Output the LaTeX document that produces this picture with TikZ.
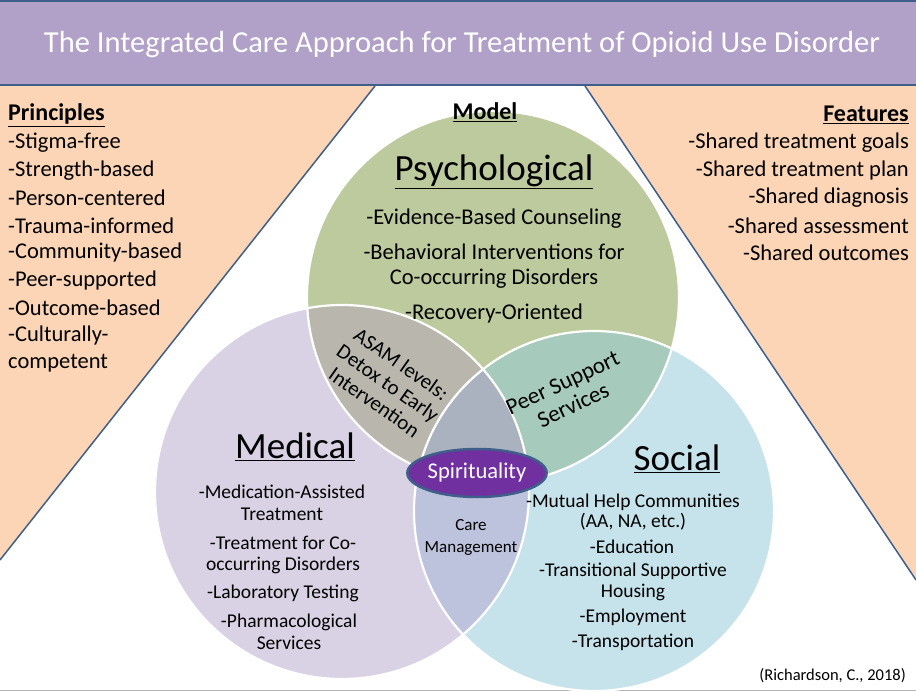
\documentclass[tikz,border=0pt]{standalone}
\usepackage{fontspec}
\usetikzlibrary{shapes.geometric}
\setmainfont{Carlito}
\begin{document}
\begin{tikzpicture}[x=1pt,y=-1pt,
  txt/.style={inner sep=0pt,font=\fontsize{22.5}{27}\selectfont,align=center},
  sm/.style={inner sep=0pt,font=\fontsize{19.5}{21.5}\selectfont,align=center},
  head/.style={inner sep=0pt,font=\bfseries\fontsize{24}{28}\selectfont},
  big/.style={inner sep=0pt,font=\fontsize{37}{42}\selectfont},
  lens/.style={inner sep=0pt,font=\fontsize{21}{23.5}\selectfont,align=center},
  edge/.style={draw=white,line width=2.2pt}]
\definecolor{peach}{HTML}{FBD5B5}
\definecolor{hdr}{HTML}{B1A0C7}
\definecolor{navy}{HTML}{3E5F8A}
\definecolor{cps}{HTML}{BDCA9D}
\definecolor{cme}{HTML}{D9D1E4}
\definecolor{cso}{HTML}{C6E3EC}
\definecolor{cpm}{HTML}{B8B6AD}
\definecolor{cpso}{HTML}{A6CABB}
\definecolor{cmso}{HTML}{BDC2DD}
\definecolor{call}{HTML}{AAB2BF}
\definecolor{spc}{HTML}{7030A0}
\useasboundingbox (0,0) rectangle (916,692);
\fill[white] (0,0) rectangle (916,692);
% peach side regions
\fill[peach] (0,86) -- (375,86) -- (0,560) -- cycle;
\fill[peach] (585,86) -- (916,86) -- (916,580) -- cycle;
\draw[navy,line width=1.5pt] (375,86) -- (0,560);
\draw[navy,line width=1.5pt] (585,86) -- (916,580);
% header
\fill[hdr] (0,0) rectangle (916,85);
\draw[navy,line width=2pt] (0,1) -- (916,1);
\draw[navy,line width=2.5pt] (0,85) -- (916,85);
\node[inner sep=0pt,text=white,font=\fontsize{30.5}{34}\selectfont] (title) at (462,45) {The Integrated Care Approach for Treatment of Opioid Use Disorder};
\draw[gray!60,line width=1pt] (0,690) -- (916,690);
% circles
\coordinate (P) at (493,297);
\coordinate (M) at (342,492);
\coordinate (S) at (594,511);
\fill[cps] (P) circle (186);
\fill[cme] (M) circle (187);
\fill[cso] (S) circle (180);
\begin{scope}\clip (P) circle (186); \fill[cpm] (M) circle (187); \fill[cpso] (S) circle (180);\end{scope}
\begin{scope}\clip (M) circle (187); \fill[cmso] (S) circle (180);\end{scope}
\begin{scope}\clip (P) circle (186); \clip (M) circle (187); \fill[call] (S) circle (180);\end{scope}
\draw[edge] (P) circle (186);
\draw[edge] (M) circle (187);
\draw[edge] (S) circle (180);
% side texts
\node[head,anchor=west] (prin) at (8,115) {\underline{Principles}};
\foreach \t [count=\i] in {-Stigma-free,-Strength-based,-Person-centered,-Trauma-informed,-Community-based,-Peer-supported,-Outcome-based,-Culturally-,competent}
  \node[txt,anchor=west] (p\i) at (8,115+27.6*\i) {\t};
\node[head,anchor=east] (feat) at (909,115) {\underline{Features}};
\foreach \t [count=\i] in {-Shared treatment goals,-Shared treatment plan,-Shared diagnosis,-Shared assessment,-Shared outcomes}
  \node[txt,anchor=east] (f\i) at (909,115+27.6*\i) {\t};
\node[head] (model) at (485,112) {\underline{Model}};
% psychological
\node[big] (psy) at (494,172) {\underline{Psychological}};
\node[txt] (ps1) at (494,219) {-Evidence-Based Counseling};
\node[txt,font=\fontsize{22.5}{25}\selectfont] (ps2) at (494,266) {-Behavioral Interventions for\\Co-occurring Disorders};
\node[txt] (ps3) at (494,314) {-Recovery-Oriented};
% medical
\node[big] (med) at (295,447) {\underline{Medical}};
\node[sm] (m1) at (282,503) {-Medication-Assisted\\Treatment};
\node[sm] (m2) at (283,555) {-Treatment for Co-\\occurring Disorders};
\node[sm] (m3) at (283,593) {-Laboratory Testing};
\node[sm] (m4) at (289,632) {-Pharmacological\\Services};
% social
\node[big] (soc) at (677,459) {\underline{Social}};
\node[sm,font=\fontsize{19.5}{20}\selectfont] (s1) at (633,512) {-Mutual Help Communities\\(AA, NA, etc.)};
\node[sm] (s2) at (632,547) {-Education};
\node[sm] (s3) at (633,582) {-Transitional Supportive\\Housing};
\node[sm] (s4) at (633,617) {-Employment};
\node[sm] (s5) at (633,642) {-Transportation};
% lenses
\node[lens,rotate=-35] (asam) at (388,383) {ASAM levels:\\Detox to Early\\Intervention};
\node[lens,font=\fontsize{23}{25}\selectfont,rotate=25] (peer) at (568,394) {Peer Support\\Services};
\node[lens,font=\fontsize{17}{22}\selectfont] (care) at (471,537) {Care\\Management};
\node[ellipse,draw=navy,line width=2.5pt,fill=spc,minimum width=126pt,minimum height=48pt,inner sep=0pt,text=white,font=\fontsize{22.5}{24}\selectfont] (spir) at (477,473) {Spirituality};
\node[inner sep=0pt,anchor=east,font=\fontsize{16.5}{18}\selectfont] (cite) at (906,676) {(Richardson, C., 2018)};
\end{tikzpicture}
\end{document}
